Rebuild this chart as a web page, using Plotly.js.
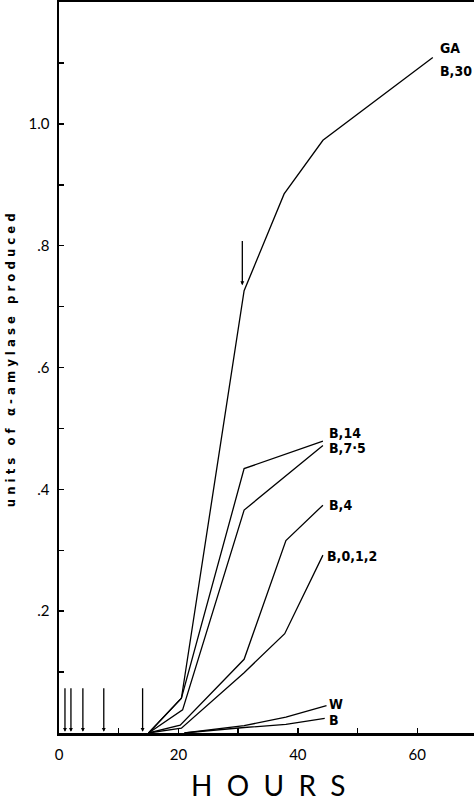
<!DOCTYPE html>
<html>
<head>
<meta charset="utf-8">
<script src="https://cdn.plot.ly/plotly-3.0.1.min.js"></script>
<style>
  html, body { margin: 0; padding: 0; background: #fff; }
  #chart { width: 474px; height: 802px; }
</style>
</head>
<body>
<div id="chart"></div>
<script>
// readings: hours vs units of a-amylase
var hoursGA = [15, 20.5, 31, 37.7, 44.2, 62.6];
var unitsGA = [0, 0.057, 0.726, 0.885, 0.973, 1.109];

var hoursB14 = [15, 20.5, 31, 44.2];
var unitsB14 = [0, 0.057, 0.434, 0.479];

var hoursB75 = [15, 20.7, 31, 44.2];
var unitsB75 = [0, 0.038, 0.366, 0.472];

var hoursB4 = [15, 20.3, 31, 38, 44.2];
var unitsB4 = [0, 0.013, 0.121, 0.316, 0.374];

var hoursB012 = [15, 20.5, 31, 37.8, 44.2];
var unitsB012 = [0, 0.008, 0.099, 0.163, 0.292];

var hoursW = [21, 31, 38, 44.8];
var unitsW = [0, 0.012, 0.026, 0.045];

var hoursB = [21, 31, 38, 44.5];
var unitsB = [0, 0.009, 0.014, 0.024];

// times of treatment (arrows)
var arrowHours = [1, 2, 4, 7.5, 14];
var arrowHoursLate = [30.7];

// curve labels
var labelText = ["GA", "B,30", "B,14", "B,7\u00b75", "B,4", "B,0,1,2", "W", "B"];
var labelHours = [63.4, 63.4, 44.8, 44.8, 44.8, 44.6, 44.8, 44.8];
var labelUnits = [1.125, 1.087, 0.493, 0.468, 0.375, 0.291, 0.048, 0.021];

// axis ticks
var xTickVals = [0, 10, 20, 30, 40, 50, 60];
var xTickText = ["0", "", "20", "", "40", "", "60"];
var yTickVals = [0.1, 0.2, 0.3, 0.4, 0.5, 0.6, 0.7, 0.8, 0.9, 1.0, 1.1];
var yTickText = ["", ".2", "", ".4", "", ".6", "", ".8", "", "1.0", ""];

var lineStyle = { color: "#000", width: 1.3 };

function curve(x, y) {
  return { x: x, y: y, type: "scatter", mode: "lines", line: lineStyle,
           hoverinfo: "skip", showlegend: false };
}

var data = [
  curve(hoursGA, unitsGA),
  curve(hoursB14, unitsB14),
  curve(hoursB75, unitsB75),
  curve(hoursB4, unitsB4),
  curve(hoursB012, unitsB012),
  curve(hoursW, unitsW),
  curve(hoursB, unitsB)
];

var annotations = [];

for (var i = 0; i < labelText.length; i++) {
  annotations.push({
    x: labelHours[i], y: labelUnits[i], xref: "x", yref: "y",
    text: "<b>" + labelText[i] + "</b>", showarrow: false,
    xanchor: "left", yanchor: "middle",
    font: { family: "Liberation Sans Narrow, DejaVu Sans Condensed, Arial Narrow, sans-serif", size: 14, color: "#000" }
  });
}

arrowHours.forEach(function (h) {
  annotations.push({
    x: h, y: 0.002, ax: h, ay: 0.076, xref: "x", yref: "y", axref: "x", ayref: "y",
    text: "", showarrow: true, arrowhead: 2, arrowsize: 0.6, arrowwidth: 1.3, arrowcolor: "#000"
  });
});
arrowHoursLate.forEach(function (h) {
  annotations.push({
    x: h, y: 0.735, ax: h, ay: 0.81, xref: "x", yref: "y", axref: "x", ayref: "y",
    text: "", showarrow: true, arrowhead: 2, arrowsize: 0.6, arrowwidth: 1.3, arrowcolor: "#000"
  });
});

// y axis title
annotations.push({
  xref: "paper", yref: "y", x: 0, y: 0.612, xshift: -49,
  text: "<b>u n i t s &nbsp; o f &nbsp; \u03b1 - a m y l a s e &nbsp; p r o d u c e d</b>",
  showarrow: false, textangle: -90, xanchor: "center", yanchor: "middle",
  font: { family: "Liberation Sans Narrow, DejaVu Sans Condensed, sans-serif", size: 13, color: "#000" }
});
// x axis title
annotations.push({
  xref: "x", yref: "paper", x: 35, y: 0, yshift: -52,
  text: "H &nbsp;O &nbsp;U &nbsp;R &nbsp;S",
  showarrow: false, xanchor: "center", yanchor: "middle",
  font: { family: "Lato, DejaVu Sans, sans-serif", size: 28, color: "#000" }
});

var layout = {
  width: 474, height: 802,
  margin: { l: 59, r: 0, t: 2, b: 69 },
  paper_bgcolor: "#fff", plot_bgcolor: "#fff",
  showlegend: false,
  xaxis: {
    range: [0, 69.5], showgrid: false, zeroline: false,
    showline: true, linecolor: "#000", linewidth: 2.5, mirror: true,
    ticks: "inside", ticklen: 5, tickwidth: 1.5, tickcolor: "#000",
    tickmode: "array", tickvals: xTickVals, ticktext: xTickText,
    ticklabelstandoff: 6,
    tickfont: { family: "Lato, DejaVu Sans, sans-serif", size: 15, color: "#000" }
  },
  yaxis: {
    range: [0, 1.2], showgrid: false, zeroline: false,
    showline: true, linecolor: "#000", linewidth: 2.5,
    ticks: "inside", ticklen: 5, tickwidth: 1.5, tickcolor: "#000",
    tickmode: "array", tickvals: yTickVals, ticktext: yTickText,
    ticklabelstandoff: 4,
    tickfont: { family: "Lato, DejaVu Sans, sans-serif", size: 15, color: "#000" }
  },
  annotations: annotations
};

Plotly.newPlot("chart", data, layout, { displayModeBar: false, staticPlot: true });
</script>
</body>
</html>
